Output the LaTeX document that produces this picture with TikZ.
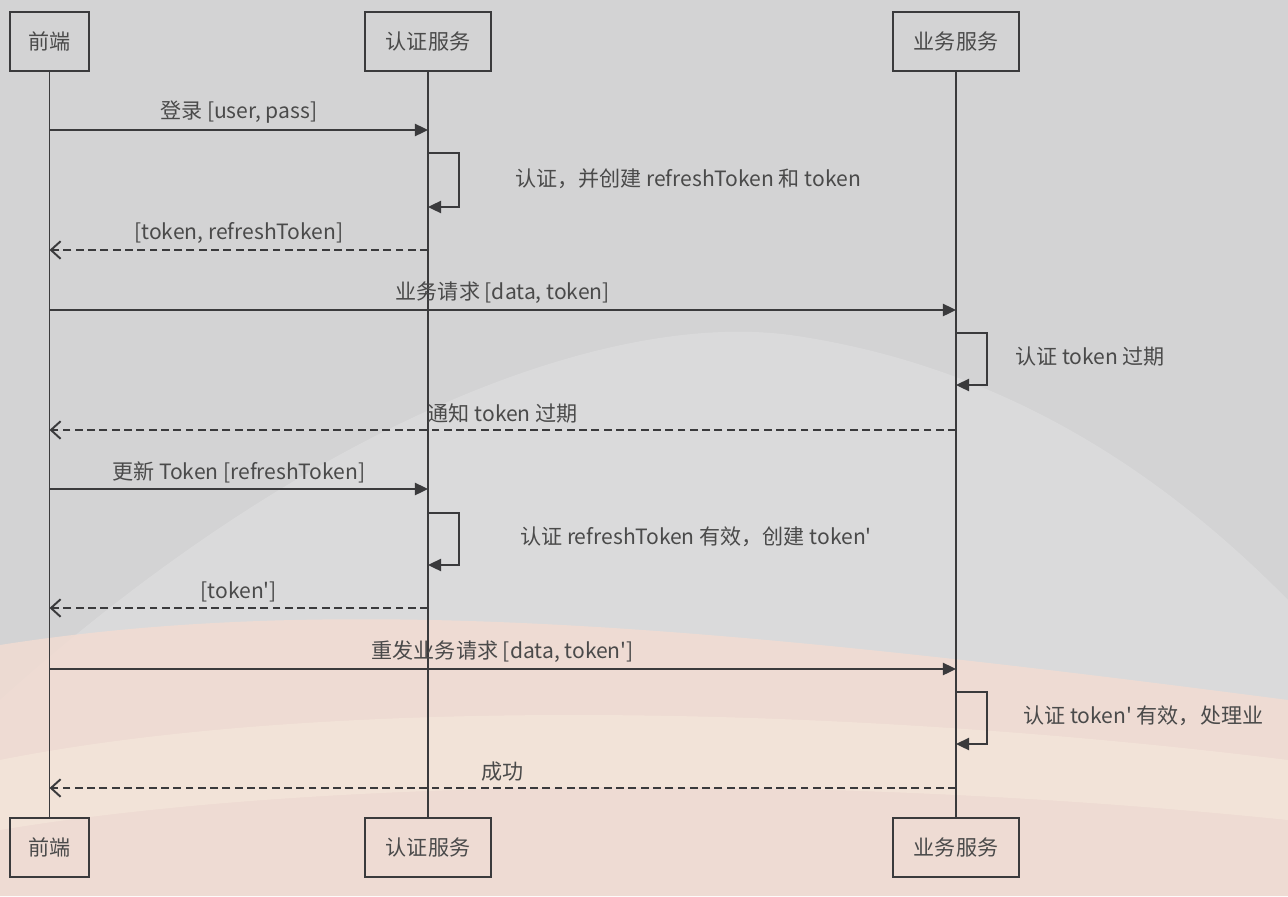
\documentclass[tikz,border=0pt]{standalone}
\usepackage{fontspec}
\newfontfamily\cjk{Noto Sans CJK SC}
\usetikzlibrary{arrows.meta,positioning}

\definecolor{bg}{HTML}{D3D3D4}
\definecolor{ink}{HTML}{3A3A3C}
\definecolor{txt}{HTML}{4A4A4A}
\definecolor{warm}{HTML}{F3DCD2}
\definecolor{cream}{HTML}{F6E9DC}

\tikzset{
  actor/.style={draw=ink, line width=1.1pt, minimum height=1.18cm, inner sep=0pt, text=txt, font=\cjk\fontsize{12}{14}\selectfont},
  life/.style={draw=ink, line width=1.1pt},
  msg/.style={draw=ink, line width=1.1pt, -{Triangle[length=7.5pt,width=7pt]}},
  reply/.style={draw=ink, line width=1.1pt, dash pattern=on 4.5pt off 2.5pt, -{Straight Barb[length=5.5pt,width=10pt]}},
  lbl/.style={text=txt, inner sep=1pt, font=\cjk\fontsize{12}{14}\selectfont},
}

\begin{document}
\begin{tikzpicture}[x=0.02cm, y=-0.02cm]
  \useasboundingbox (0,0) rectangle (1288,896);
  \fill[bg] (0,0) rectangle (1288,896);
  \fill[white, opacity=0.18] (0,896) -- (0,700) .. controls (300,430) and (600,310) .. (790,335) .. controls (1000,365) and (1160,470) .. (1288,600) -- (1288,896) -- cycle;
  \fill[warm, opacity=0.8] (0,896) -- (0,645) .. controls (350,590) and (750,630) .. (1288,700) -- (1288,896) -- cycle;
  \fill[cream, opacity=0.6] (0,760) .. controls (300,700) and (800,700) .. (1288,760) -- (1288,820) .. controls (800,770) and (300,780) .. (0,830) -- cycle;

  \node[actor, minimum width=1.58cm] (fe) at (49.5,41.5) {前端};
  \node[actor, minimum width=2.52cm] (auth) at (428,41.5) {认证服务};
  \node[actor, minimum width=2.52cm] (biz) at (956,41.5) {业务服务};
  \node[actor, minimum width=1.58cm] (fe2) at (49.5,847.5) {前端};
  \node[actor, minimum width=2.52cm] (auth2) at (428,847.5) {认证服务};
  \node[actor, minimum width=2.52cm] (biz2) at (956,847.5) {业务服务};

  \draw[life] (fe) -- (fe2);
  \draw[life] (auth) -- (auth2);
  \draw[life] (biz) -- (biz2);

  \coordinate (fe1) at (49.5,130);
  \coordinate (au1) at (428,130);
  \draw[msg] (fe1) -- node[lbl, above=2pt] (m1) {登录 [user, pass]} (au1);

  \coordinate (au2) at (428,153);
  \coordinate (au3) at (428,207);
  \draw[msg] (au2) -- ++(31,0) |- (au3);
  \node[lbl, anchor=west] (n2) at (513,179) {认证，并创建 refreshToken 和 token};

  \coordinate (au4) at (428,250);
  \coordinate (fe4) at (49.5,250);
  \draw[reply] (au4) -- node[lbl, above=2pt] (m3) {[token, refreshToken]} (fe4);

  \coordinate (fe5) at (49.5,310);
  \coordinate (bz5) at (956,310);
  \draw[msg] (fe5) -- node[lbl, above=2pt] (m4) {业务请求 [data, token]} (bz5);

  \coordinate (bz6) at (956,333);
  \coordinate (bz7) at (956,385);
  \draw[msg] (bz6) -- ++(31,0) |- (bz7);
  \node[lbl, anchor=west] (n5) at (1013,357) {认证 token 过期};

  \coordinate (bz8) at (956,430);
  \coordinate (fe8) at (49.5,430);
  \draw[reply] (bz8) -- node[lbl, above=2pt] (m6) {通知 token 过期} (fe8);

  \coordinate (fe9) at (49.5,489);
  \coordinate (au9) at (428,489);
  \draw[msg] (fe9) -- node[lbl, above=2pt] (m7) {更新 Token [refreshToken]} (au9);

  \coordinate (au10) at (428,513);
  \coordinate (au11) at (428,565);
  \draw[msg] (au10) -- ++(31,0) |- (au11);
  \node[lbl, anchor=west] (n8) at (518,537) {认证 refreshToken 有效，创建 token'};

  \coordinate (au12) at (428,608);
  \coordinate (fe12) at (49.5,608);
  \draw[reply] (au12) -- node[lbl, above=2pt] (m9) {[token']} (fe12);

  \coordinate (fe13) at (49.5,669);
  \coordinate (bz13) at (956,669);
  \draw[msg] (fe13) -- node[lbl, above=2pt] (m10) {重发业务请求 [data, token']} (bz13);

  \coordinate (bz14) at (956,692);
  \coordinate (bz15) at (956,744);
  \draw[msg] (bz14) -- ++(31,0) |- (bz15);
  \node[lbl, anchor=west] (n11) at (1021,716) {认证 token' 有效，处理业};

  \coordinate (bz16) at (956,788);
  \coordinate (fe16) at (49.5,788);
  \draw[reply] (bz16) -- node[lbl, above=2pt] (m12) {成功} (fe16);
\end{tikzpicture}
\end{document}
